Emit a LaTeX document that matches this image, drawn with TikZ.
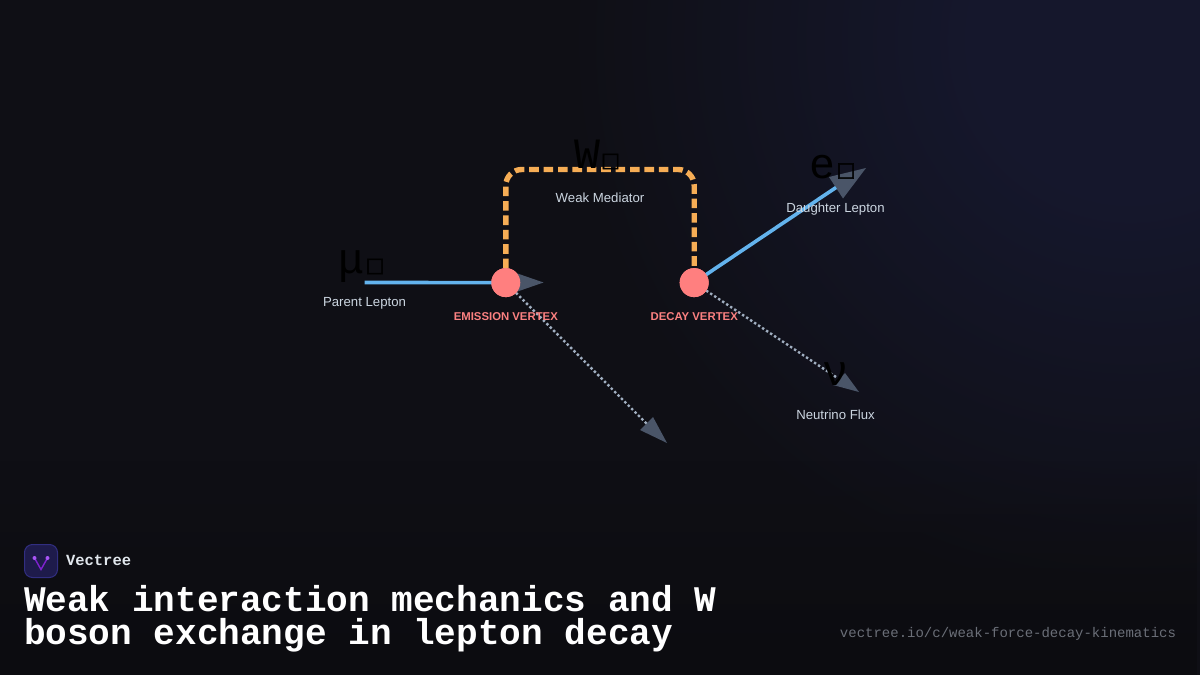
\documentclass[tikz,border=0pt]{standalone}
\usepackage{fontspec}
\setmainfont{Liberation Sans}
\newfontfamily\monof{Liberation Mono}
\newfontfamily\tofuf[FakeBold=2.6]{DejaVu Sans}
\usetikzlibrary{fadings}
\definecolor{bgbase}{HTML}{0F0F15}
\definecolor{bgglow}{HTML}{15172C}
\definecolor{bgdark}{HTML}{0C0C10}
\definecolor{lepton}{HTML}{63B3ED}
\definecolor{mediator}{HTML}{F6AD55}
\definecolor{vertexc}{HTML}{FF7F7F}
\definecolor{vertexl}{HTML}{FC8181}
\definecolor{tipc}{HTML}{4A5568}
\definecolor{dotc}{HTML}{A0AEC0}
\definecolor{labelc}{HTML}{CBD5E0}
\definecolor{urlc}{HTML}{6B6F78}
\definecolor{logobg}{HTML}{1E1B4B}
\definecolor{logoedge}{HTML}{312E81}
\definecolor{logov}{HTML}{7E22CE}
\definecolor{logod}{HTML}{A855F7}
\pgfdeclareradialshading{bgglowshade}{\pgfpointorigin}{color(0bp)=(bgglow); color(7bp)=(bgglow); color(25bp)=(bgbase); color(50bp)=(bgbase)}
\newcommand{\tofubox}{\hspace{1.2pt}\raisebox{1.8pt}{\tofuf\fontsize{20}{20}\selectfont □}}
\tikzset{
  txt/.style={inner sep=0pt,outer sep=0pt,anchor=base},
  glyph/.style={txt,anchor=base west,text=black,font=\monof\fontsize{43.2}{43.2}\selectfont},
  partlabel/.style={txt,text=labelc,font=\fontsize{13.2}{13.2}\selectfont},
  vertexlabel/.style={txt,text=vertexl,font=\bfseries\fontsize{11.35}{11.35}\selectfont},
  vertexdot/.style={circle,fill=vertexc,draw=none,minimum size=29pt,inner sep=0pt},
  leptonline/.style={draw=lepton,line width=3.6pt},
  fluxline/.style={draw=dotc,line width=2.4pt,dash pattern=on 2.4pt off 2.4pt},
  medline/.style={draw=mediator,line width=5.4pt,dash pattern=on 9.6pt off 4.8pt,rounded corners=16pt},
  tiphead/.style={fill=tipc,draw=none},
  titletext/.style={txt,anchor=base west,text=white,font=\monof\bfseries\fontsize{36.05}{36.05}\selectfont},
}
\begin{document}
\begin{tikzpicture}[x=1pt,y=-1pt]
\useasboundingbox (0,0) rectangle (1200,675);
\begin{scope}
\clip (0,0) rectangle (1200,675);
\fill[bgbase] (0,0) rectangle (1200,675);
\shade[shading=bgglowshade] (1130,40) circle (560);
\fill[bgdark,path fading=north] (0,460) rectangle (1200,675);
\end{scope}

\coordinate (pstart) at (364.5,282.5);
\coordinate (etip) at (543.5,282.5);
\coordinate (dtip) at (866,168);
\coordinate (ntip) at (859,392);
\coordinate (ftip) at (667,443);
\coordinate (dend) at (836,187.5);
\coordinate (nend) at (839,379);
\coordinate (fend) at (646.5,423.5);
\node[vertexdot] (emit) at (505.8,282.6) {};
\node[vertexdot] (decay) at (694.2,282.6) {};

\fill[tiphead] (516,273) -- (etip) -- (516,292) -- cycle;
\fill[tiphead] (829,177) -- (dtip) -- (843,198.5) -- cycle;
\fill[tiphead] (833,385) -- (ntip) -- (845,373) -- cycle;
\fill[tiphead] (640,430) -- (ftip) -- (653,417) -- cycle;

\draw[medline] (emit.center) -- (505.8,169.5) -- (694.2,169.5) -- (decay.center);
\draw[leptonline] (pstart) -- (emit.center);
\draw[leptonline] (decay.center) -- (dend);
\draw[fluxline] (emit.center) -- (fend);
\draw[fluxline] (decay.center) -- (nend);
\node[vertexdot] at (emit) {};
\node[vertexdot] at (decay) {};

\node[glyph] (mu) at (338.5,273.5) {μ\tofubox};
\node[glyph] (wb) at (574,168.5) {W\tofubox};
\node[glyph] (el) at (809.5,178) {e\tofubox};
\node[glyph] (nu) at (822.5,385) {ν};

\node[partlabel] (lp) at (364.5,306) {Parent Lepton};
\node[partlabel] (lw) at (600,202) {Weak Mediator};
\node[partlabel] (ld) at (835.5,212) {Daughter Lepton};
\node[partlabel] (ln) at (835.5,419) {Neutrino Flux};
\node[vertexlabel] (le) at (505.8,320) {EMISSION VERTEX};
\node[vertexlabel] (lv) at (694.2,320) {DECAY VERTEX};

% brand mark
\node[draw=logoedge,fill=logobg,rounded corners=8pt,line width=1pt,minimum size=33pt,inner sep=0pt] (logo) at (41,561) {};
\coordinate (vl) at (34.5,558);
\coordinate (vr) at (47.5,558);
\coordinate (vb) at (41,569.5);
\draw[logov,line width=1.4pt] (vl) -- (vb) -- (vr);
\fill[logod] (vl) circle (2);
\fill[logod] (vr) circle (2);
\node[txt,anchor=base west,text=labelc!60!white,font=\monof\bfseries\fontsize{15.5}{15.5}\selectfont] (brand) at (66,565.5) {Vectree};
\node[titletext] (t1) at (24,611.5) {Weak interaction mechanics and W};
\node[titletext] (t2) at (24,644.5) {boson exchange in lepton decay};
\node[txt,anchor=base east,text=urlc,font=\monof\fontsize{14}{14}\selectfont] (url) at (1176,637) {vectree.io/c/weak-force-decay-kinematics};
\end{tikzpicture}
\end{document}
